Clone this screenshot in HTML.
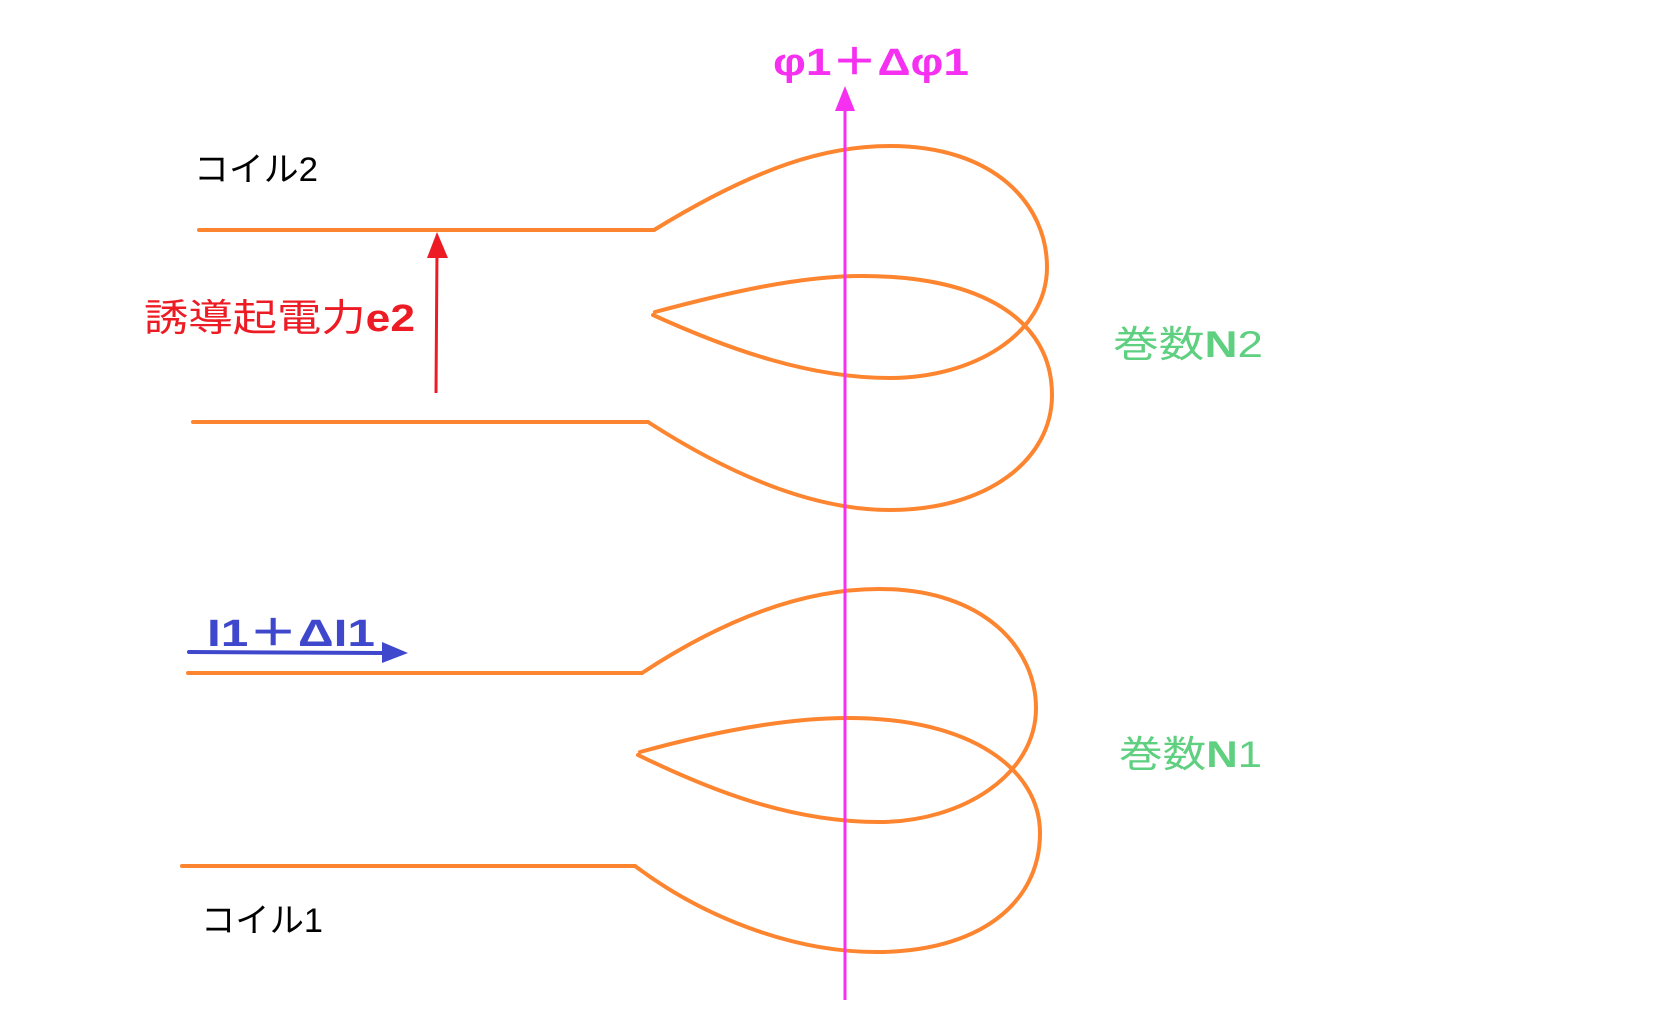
<!DOCTYPE html>
<html><head><meta charset="utf-8"><style>html,body{margin:0;padding:0;background:#fff;}svg{display:block}</style></head>
<body>
<svg width="1670" height="1009" viewBox="0 0 1670 1009" xmlns="http://www.w3.org/2000/svg">
<g fill="none" stroke="#fd8530" stroke-width="4" stroke-linecap="round">
  <!-- coil 2 -->
  <line x1="199" y1="230" x2="654" y2="230"/>
  <path d="M654,230 C760,165 828,146 890,146 C995,146 1047,205 1047,267 C1047,335 972,378 890,378 C810,378 730,350 653,315"/>
  <path d="M655,312 C730,292 800,276 862,276 C982,276 1052,320 1052,395 C1052,460 987,510 890,510 C800,510 710,462 648,422"/>
  <line x1="193" y1="422" x2="648" y2="422"/>
  <!-- coil 1 -->
  <line x1="188" y1="673" x2="642" y2="673"/>
  <path d="M642,673 C730,615 808,589 879,589 C986,589 1036,650 1036,708 C1036,775 962,822 879,822 C790,822 710,790 638,755"/>
  <path d="M640,752 C720,730 790,718 848,718 C972,718 1040,770 1040,833 C1040,905 977,952 876,952 C790,952 700,915 635,866"/>
  <line x1="182" y1="866" x2="635" y2="866"/>
</g>
<!-- magenta flux -->
<line x1="845" y1="1000" x2="845" y2="105" stroke="#f530f0" stroke-width="3"/>
<polygon points="845,86 835,111 855,111" fill="#f530f0"/>
<text x="773" y="75" font-family="'Liberation Sans','Noto Sans CJK JP',sans-serif" font-size="38" font-weight="bold" fill="#f530f0" textLength="196" lengthAdjust="spacingAndGlyphs">φ1＋Δφ1</text>
<!-- red emf -->
<line x1="436" y1="393" x2="437" y2="250" stroke="#ed1c24" stroke-width="3"/>
<polygon points="437,232 427,258 448,258" fill="#ed1c24"/>
<text x="144" y="331" font-family="'Liberation Sans','Noto Sans CJK JP',sans-serif" font-size="38" fill="#ed1c24" textLength="271" lengthAdjust="spacingAndGlyphs">誘導起電力<tspan font-weight="bold">e2</tspan></text>
<!-- blue current -->
<line x1="189" y1="652" x2="385" y2="653" stroke="#3f48cc" stroke-width="4" stroke-linecap="round"/>
<polygon points="408,653 382,642 382,663" fill="#3f48cc"/>
<text x="207" y="646" font-family="'Liberation Sans','Noto Sans CJK JP',sans-serif" font-size="38" font-weight="bold" fill="#3f48cc" textLength="168" lengthAdjust="spacingAndGlyphs">I1＋ΔI1</text>
<!-- labels -->
<text x="194" y="181" font-family="'Liberation Sans','Noto Sans CJK JP',sans-serif" font-size="34" fill="#000" textLength="124" lengthAdjust="spacingAndGlyphs">コイル2</text>
<text x="201" y="932" font-family="'Liberation Sans','Noto Sans CJK JP',sans-serif" font-size="34" fill="#000" textLength="122" lengthAdjust="spacingAndGlyphs">コイル1</text>
<text x="1113" y="357" font-family="'Liberation Sans','Noto Sans CJK JP',sans-serif" font-size="37" fill="#5fcf80" textLength="150" lengthAdjust="spacingAndGlyphs">巻数<tspan font-weight="bold">N</tspan>2</text>
<text x="1119" y="767" font-family="'Liberation Sans','Noto Sans CJK JP',sans-serif" font-size="37" fill="#5fcf80" textLength="143" lengthAdjust="spacingAndGlyphs">巻数<tspan font-weight="bold">N</tspan>1</text>
</svg>
</body></html>
